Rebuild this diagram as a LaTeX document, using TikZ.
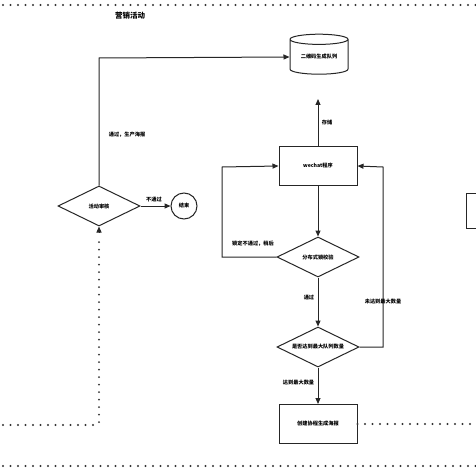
\documentclass[tikz,border=0pt]{standalone}
\usepackage{fontspec}
\newfontfamily\cjk{Noto Sans CJK SC}
\usetikzlibrary{shapes.geometric,arrows.meta}
\begin{document}
\begin{tikzpicture}[x=1pt,y=-1pt,
  every node/.style={font=\cjk\bfseries\fontsize{5.2}{6}\selectfont},
  line/.style={draw=black!85,line width=1pt},
  arr/.style={line,-{Triangle[length=6pt,width=5pt]}},
  dots/.style={draw=black!80,line width=2.1pt,line cap=round,dash pattern=on 0pt off 7.5pt},
  proc/.style={draw=black!85,line width=1pt,minimum width=78pt,minimum height=39pt,inner sep=1pt},
  dec/.style={draw=black!85,line width=1pt,diamond,aspect=2.05,minimum width=82pt,minimum height=40pt,inner sep=0pt},
  lbl/.style={font=\cjk\bfseries\fontsize{5.2}{6}\selectfont}
]
\useasboundingbox (0,0) rectangle (476,476);
\fill[white] (0,0) rectangle (476,476);
% swimlane borders
\draw[dots] (3,5) -- (476,5);
\draw[dots] (3,466) -- (476,466);
\node[font=\cjk\bfseries\fontsize{7.5}{8}\selectfont] (title) at (130,16) {营销活动};
% nodes
\node[dec] (audit) at (99,206) {活动审核};
\node[circle,draw=black!85,line width=1pt,minimum size=26pt,inner sep=0pt] (end) at (184,206) {结束};
\node[cylinder,shape border rotate=90,draw=black!85,line width=1pt,aspect=0.28,minimum width=58pt,minimum height=40pt,inner sep=0pt] (db) at (319,57) {二维码生成队列};
\node[proc] (prog) at (318,166) {wechat程序};
\node[dec] (lock) at (318,257) {分布式锁校验};
\node[dec] (limit) at (318,347) {是否达到最大队列数量};
\node[proc] (gen) at (318,424) {创建协程生成海报};
\node[draw=black!85,line width=1pt,minimum width=30pt,minimum height=35pt,anchor=west] (right) at (466,211) {};
% connectors
\coordinate (c1) at (99,58);
\draw[arr] (audit.north) -- (c1) -- (db.west);
\node[lbl] at (127,135) {通过，生产海报};
\draw[arr] (audit.east) -- node[lbl,above,pos=0.45] {不通过} (end.west);
\draw[arr] (prog.north) -- (318,99) node[lbl,pos=0.5,right] {存储};
\draw[arr] (prog.south) -- (lock.north);
\coordinate (l1) at (222,257);
\coordinate (l2) at (222,167);
\draw[arr] (lock.west) -- (l1) -- (l2) -- (prog.west);
\node[lbl] at (253,244) {锁定不通过，稍后};
\draw[arr] (lock.south) -- node[lbl,left,pos=0.4] {通过} (limit.north);
\coordinate (r1) at (383,347);
\coordinate (r2) at (383,167);
\draw[arr] (limit.east) -- (r1) -- (r2) -- (prog.east);
\node[lbl] at (383,302) {未达到最大数量};
\draw[arr] (limit.south) -- node[lbl,left,pos=0.4] {达到最大数量} (gen.north);
% dotted flows
\draw[dots] (gen.east) -- (476,424);
\draw[dots,rounded corners=3pt] (3,425) -- (99,425) -- (99,236);
\draw[line,-{Triangle[length=6pt,width=5pt]}] (99,232) -- (audit.south);
\end{tikzpicture}
\end{document}
